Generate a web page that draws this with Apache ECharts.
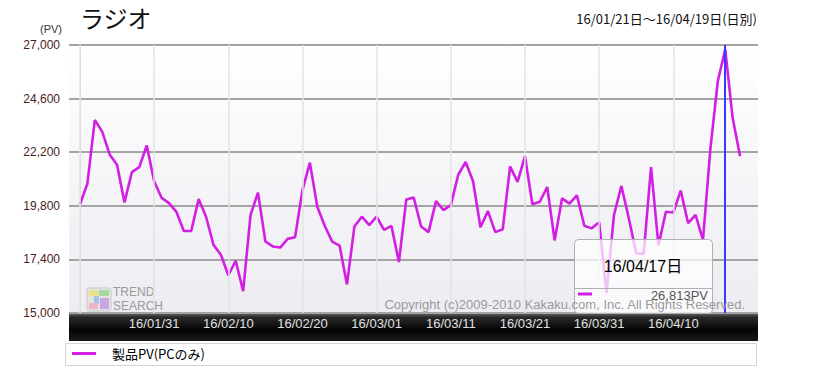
<!DOCTYPE html>
<html><head><meta charset="utf-8">
<script src="https://cdn.jsdelivr.net/npm/echarts@6/dist/echarts.min.js"></script>
<style>html,body{margin:0;padding:0;background:#fff}#c{width:828px;height:368px}</style>
</head><body><div id="c"></div>
<script>
// ---- data ----
const chartTitle = 'ラジオ';
const rangeText = '16/01/21日～16/04/19日(日別)';
const unitText = '(PV)';
const seriesName = '製品PV(PCのみ)';
const dates = [
 '16/01/21','16/01/22','16/01/23','16/01/24','16/01/25','16/01/26','16/01/27','16/01/28','16/01/29','16/01/30','16/01/31',
 '16/02/01','16/02/02','16/02/03','16/02/04','16/02/05','16/02/06','16/02/07','16/02/08','16/02/09','16/02/10',
 '16/02/11','16/02/12','16/02/13','16/02/14','16/02/15','16/02/16','16/02/17','16/02/18','16/02/19','16/02/20',
 '16/02/21','16/02/22','16/02/23','16/02/24','16/02/25','16/02/26','16/02/27','16/02/28','16/02/29',
 '16/03/01','16/03/02','16/03/03','16/03/04','16/03/05','16/03/06','16/03/07','16/03/08','16/03/09','16/03/10',
 '16/03/11','16/03/12','16/03/13','16/03/14','16/03/15','16/03/16','16/03/17','16/03/18','16/03/19','16/03/20',
 '16/03/21','16/03/22','16/03/23','16/03/24','16/03/25','16/03/26','16/03/27','16/03/28','16/03/29','16/03/30','16/03/31',
 '16/04/01','16/04/02','16/04/03','16/04/04','16/04/05','16/04/06','16/04/07','16/04/08','16/04/09','16/04/10',
 '16/04/11','16/04/12','16/04/13','16/04/14','16/04/15','16/04/16','16/04/17','16/04/18','16/04/19'
];
const pv = [
 19870,20790,23640,23120,22100,21640,19950,21310,21530,22500,20900,
 20160,19920,19530,18670,18670,20100,19310,18050,17610,16690,
 17340,15980,19390,20390,18200,17980,17930,18320,18390,20500,
 21730,19760,18910,18200,18020,16280,18870,19310,18940,
 19310,18720,18900,17280,20080,20170,18870,18620,20010,19610,
 19830,21190,21760,20900,18840,19560,18620,18750,21560,20870,
 22020,19870,19980,20640,18250,20130,19900,20270,18910,18790,19060,
 15900,19390,20690,19240,17680,17640,21530,18020,19530,19500,
 20480,19020,19390,18270,22350,25380,26813,23740,22020
];
const yTicks = [15000, 17400, 19800, 22200, 24600, 27000];
const xGridIdx = [0, 10, 20, 30, 40, 50, 60, 70, 80];
const xLabelIdx = [10, 20, 30, 40, 50, 60, 70, 80];
const tipIndex = 87;
const copyrightText = 'Copyright (c)2009-2010 Kakaku.com, Inc. All Rights Reserved.';

// ---- chart ----
const FONT = '"Liberation Sans", "Noto Sans CJK JP", sans-serif';
const JP = '"Noto Sans CJK JP", "Liberation Sans", sans-serif';
const LINE = '#d21fe3';
const chart = echarts.init(document.getElementById('c'), null, {renderer: 'svg'});
const fmt = v => v.toLocaleString('en-US');

chart.setOption({
  animation: false,
  grid: {left: 69, right: 70, top: 45, bottom: 55},
  xAxis: {
    type: 'value', min: -1.48, max: 91.42, z: 5,
    axisLine: {show: false},
    axisTick: {show: false, customValues: xGridIdx},
    splitLine: {show: true, lineStyle: {color: '#e3e3e3', width: 1.5}},
    axisLabel: {customValues: xLabelIdx, formatter: v => dates[Math.round(v)],
      color: '#e0e0e0', fontSize: 13, fontFamily: FONT, margin: 4}
  },
  yAxis: {
    type: 'value', min: yTicks[0], max: yTicks[yTicks.length - 1],
    axisLine: {show: true, lineStyle: {color: '#d0d0d0', width: 1}},
    axisTick: {show: false, customValues: yTicks},
    splitLine: {show: true, lineStyle: {color: '#a4a4a4', width: 2}},
    axisLabel: {customValues: yTicks, formatter: v => fmt(v),
      color: '#4a1c1c', fontSize: 12, fontFamily: FONT, margin: 9}
  },
  legend: {
    left: 72, top: 347, padding: 0, icon: 'rect', itemWidth: 24, itemHeight: 3,
    textStyle: {fontSize: 13, color: '#000', fontFamily: JP, padding: [0, 0, 0, 11]},
    data: [seriesName]
  },
  series: [{
    name: seriesName, type: 'line', showSymbol: false, z: 3,
    lineStyle: {color: LINE, width: 2.6}, itemStyle: {color: LINE},
    data: pv.map((v, i) => [i, v]),
    markLine: {
      silent: true, symbol: 'none', label: {show: false},
      lineStyle: {color: '#3a3aff', width: 2, type: 'solid'},
      data: [{xAxis: tipIndex}]
    }
  }],
  graphic: [
    {type: 'rect', z: -20, silent: true, shape: {x: 69, y: 45, width: 689, height: 268},
      style: {fill: new echarts.graphic.LinearGradient(0, 0, 0, 1, [
        {offset: 0, color: '#ffffff'}, {offset: 1, color: '#ececf2'}])}},
    {type: 'rect', z: -5, silent: true, shape: {x: 69, y: 313, width: 689, height: 28},
      style: {fill: new echarts.graphic.LinearGradient(0, 0, 0, 1, [
        {offset: 0, color: '#6a6a6a'}, {offset: 0.15, color: '#2a2a2a'},
        {offset: 0.6, color: '#050505'}, {offset: 1, color: '#1a1a1a'}])}},
    {type: 'rect', z: -5, silent: true, shape: {x: 65.5, y: 343.5, width: 691, height: 22},
      style: {fill: '#fff', stroke: '#d4d4d4', lineWidth: 1}},
    {type: 'text', z: 10, style: {x: 80, y: 17, text: chartTitle, font: '24px ' + JP,
      fill: '#111', textVerticalAlign: 'middle'}},
    {type: 'text', z: 10, style: {x: 40, y: 29, text: unitText, font: '11px ' + FONT,
      fill: '#333', textVerticalAlign: 'middle'}},
    {type: 'text', z: 10, style: {x: 757, y: 18, text: rangeText, font: '13px ' + JP,
      fill: '#111', textAlign: 'right', textVerticalAlign: 'middle'}},
    // watermark logo
    {type: 'rect', z: -8, silent: true, shape: {x: 87, y: 288, width: 24, height: 23, r: 2}, style: {fill: '#e4e4e4', stroke: '#c8c8c8'}},
    {type: 'rect', z: -7, silent: true, shape: {x: 89, y: 290, width: 9, height: 6}, style: {fill: '#e9e28a'}},
    {type: 'rect', z: -7, silent: true, shape: {x: 99, y: 290, width: 10, height: 6}, style: {fill: '#a6d99a'}},
    {type: 'rect', z: -7, silent: true, shape: {x: 94, y: 296, width: 5, height: 8}, style: {fill: '#9ec4e8'}},
    {type: 'rect', z: -7, silent: true, shape: {x: 89, y: 303, width: 9, height: 6}, style: {fill: '#f2b3c6'}},
    {type: 'rect', z: -7, silent: true, shape: {x: 100, y: 298, width: 9, height: 11}, style: {fill: '#c7a6e6'}},
    {type: 'text', z: -7, silent: true, style: {x: 113, y: 292, text: 'TREND', font: '12px ' + FONT,
      fill: '#9a9a9a', textVerticalAlign: 'middle'}},
    {type: 'text', z: -7, silent: true, style: {x: 113, y: 305.5, text: 'SEARCH', font: '12px ' + FONT,
      fill: '#9a9a9a', textVerticalAlign: 'middle'}},
    // tooltip
    {type: 'rect', z: 20, silent: true, shape: {x: 574.5, y: 239.5, width: 138, height: 74, r: 4},
      style: {fill: 'rgba(255,255,255,0.72)', stroke: '#b0b0b0', lineWidth: 1}},
    {type: 'line', z: 21, silent: true, shape: {x1: 575, y1: 288.5, x2: 712, y2: 288.5}, style: {stroke: '#b0b0b0', lineWidth: 1}},
    {type: 'text', z: 21, silent: true, style: {x: 643, y: 266, text: dates[tipIndex] + '日', font: '16px ' + FONT,
      fill: '#000', textAlign: 'center', textVerticalAlign: 'middle'}},
    {type: 'line', z: 21, silent: true, shape: {x1: 578, y1: 294, x2: 592, y2: 294}, style: {stroke: LINE, lineWidth: 3}},
    {type: 'text', z: 21, silent: true, style: {x: 708, y: 295, text: fmt(pv[tipIndex]) + 'PV', font: '13px ' + FONT,
      fill: '#555', textAlign: 'right', textVerticalAlign: 'middle'}},
    {type: 'text', z: 30, silent: true, style: {x: 745, y: 304, text: copyrightText, font: '13px ' + FONT,
      fill: '#9a9a9a', textAlign: 'right', textVerticalAlign: 'middle'}}
  ]
});
</script></body></html>
